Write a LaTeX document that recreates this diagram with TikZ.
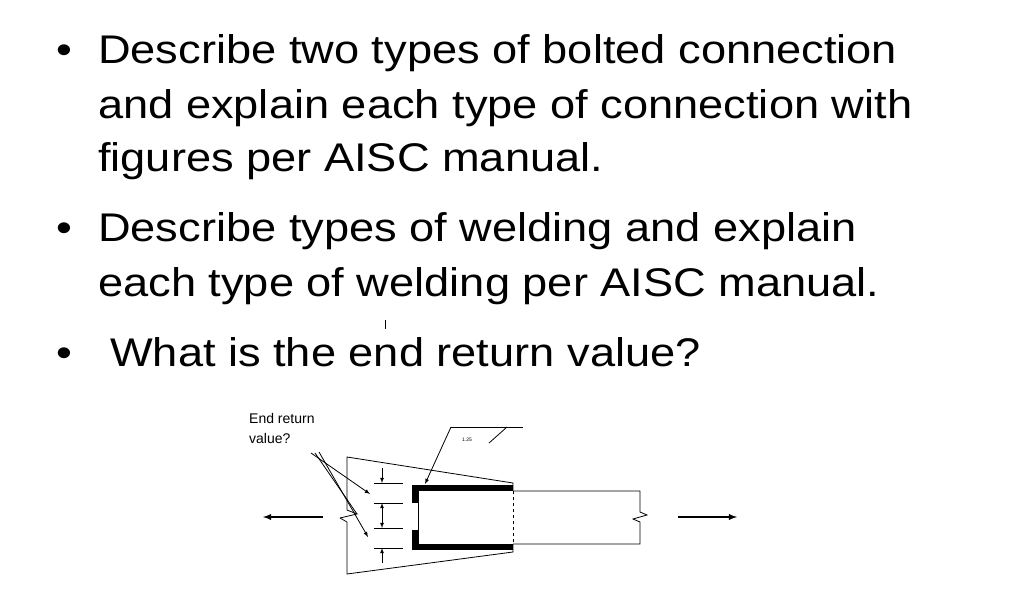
\documentclass[tikz,border=0pt]{standalone}
\usepackage{fontspec}
\setmainfont{Liberation Sans}
\newfontfamily\widefont[FakeStretch=1.13]{Liberation Sans}
\begin{document}
\begin{tikzpicture}[x=1pt,y=-1pt,
  big/.style={anchor=base west,inner sep=0,font=\widefont\fontsize{40}{46}\selectfont},
  small/.style={anchor=base west,inner sep=0,font=\fontsize{14}{16}\selectfont},
  thin/.style={line width=0.8pt},
  weld/.style={line width=6pt},
  arr/.style={-latex,line width=1.8pt}]
\useasboundingbox (0,0) rectangle (1024,609);
\node[big] (b1) at (56,64) {•};
\node[big] (l1) at (98,64) {Describe two types of bolted connection};
\node[big] (l2) at (98,119) {and explain each type of connection with};
\node[big] (l3) at (98,172) {figures per AISC manual.};
\node[big] (b2) at (56,242) {•};
\node[big] (l4) at (98,242) {Describe types of welding and explain};
\node[big] (l5) at (98,297) {each type of welding per AISC manual.};
\node[big] (b3) at (56,366) {•};
\node[big] (l6) at (110,366) {What is the end return value?};
\draw[line width=0.6pt] (385,320) -- (385,329);
% label
\node[small] (t1) at (249,423) {End return};
\node[small] (t2) at (249,443) {value?};
% gusset
\draw[thin] (340,518) -- (347,522) -- (347,574) -- (513,552) -- (513,544);
\draw[thin] (340,518) -- (357,514) -- (347,510) -- (347,457) -- (513,483) -- (513,491);
% member
\draw[thin] (513,491) -- (640,491) -- (640,512) -- (647,515) -- (633,519) -- (640,522) -- (640,544) -- (513,544);
\draw[thin,dashed] (513,491) -- (513,544);
% angle with welds
\draw[weld] (412,488) -- (513,488);
\draw[weld] (412,547) -- (513,547);
\draw[weld] (415,485) -- (415,503);
\draw[weld] (415,530) -- (415,550);
\draw[thin] (418,491) -- (418,544);
% dimension lines
\foreach \y in {483,503,528,548} \draw[thin] (374,\y) -- (403,\y);
\coordinate (d1) at (382,468);
\coordinate (d2) at (382,563);
\draw[thin,-latex] (d1) -- (382,483);
\draw[thin,latex-latex] (382,503) -- (382,528);
\draw[thin,-latex] (d2) -- (382,548);
% leaders
\coordinate (lead1) at (311,453);
\coordinate (lead2) at (319,452);
\draw[thin,-latex] (lead1) -- (370,494);
\draw[thin,-latex] (lead2) -- (368,537);
\draw[thin] (315,453) -- (357,514);
% weld symbol
\coordinate (r1) at (451,427);
\coordinate (r2) at (523,427);
\draw[thin] (r2) -- (r1);
\draw[thin,-latex] (r1) -- (425,484);
\draw[thin] (489,443) -- (507,427);
\node[anchor=base west,inner sep=0,font=\fontsize{5}{6}\selectfont] (t3) at (462,441) {1.25};
% force arrows
\draw[arr] (323,517) -- (263,517);
\draw[arr] (678,517) -- (737,517);
\end{tikzpicture}
\end{document}
